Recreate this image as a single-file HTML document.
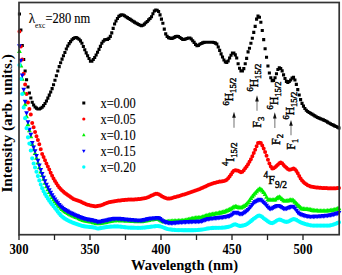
<!DOCTYPE html>
<html><head><meta charset="utf-8"><style>html,body{margin:0;padding:0;background:#fff;width:342px;height:275px;overflow:hidden}</style></head>
<body><svg width="342" height="275" viewBox="0 0 342 275" style="display:block">
<rect width="342" height="275" fill="#fff"/>
<g><path fill="#000" d="M17.9 12.45h3.1v3.1h-3.1zM19.32 28.45h3.1v3.1h-3.1zM20.74 43.95h3.1v3.1h-3.1zM22.16 57.95h3.1v3.1h-3.1zM23.58 69.45h3.1v3.1h-3.1zM25 78.15h3.1v3.1h-3.1zM26.42 85.45h3.1v3.1h-3.1zM27.84 91.45h3.1v3.1h-3.1zM29.26 96.45h3.1v3.1h-3.1zM30.68 100.75h3.1v3.1h-3.1zM32.1 103.5h3.1v3.1h-3.1zM33.52 105.46h3.1v3.1h-3.1zM34.94 106.61h3.1v3.1h-3.1zM36.36 107.41h3.1v3.1h-3.1zM37.78 107.46h3.1v3.1h-3.1zM39.2 106.76h3.1v3.1h-3.1zM40.62 105.72h3.1v3.1h-3.1zM42.04 104.08h3.1v3.1h-3.1zM43.46 101.91h3.1v3.1h-3.1zM44.88 99.45h3.1v3.1h-3.1zM46.3 96.54h3.1v3.1h-3.1zM47.72 93.53h3.1v3.1h-3.1zM49.14 90.43h3.1v3.1h-3.1zM50.56 87.05h3.1v3.1h-3.1zM51.98 83.14h3.1v3.1h-3.1zM53.4 78.71h3.1v3.1h-3.1zM54.82 74.14h3.1v3.1h-3.1zM56.24 69.38h3.1v3.1h-3.1zM57.66 65.07h3.1v3.1h-3.1zM59.08 61.17h3.1v3.1h-3.1zM60.5 57.57h3.1v3.1h-3.1zM61.92 54.21h3.1v3.1h-3.1zM63.34 50.89h3.1v3.1h-3.1zM64.76 47.49h3.1v3.1h-3.1zM66.18 44.45h3.1v3.1h-3.1zM67.6 42.09h3.1v3.1h-3.1zM69.02 40.12h3.1v3.1h-3.1zM70.44 38.22h3.1v3.1h-3.1zM71.86 36.93h3.1v3.1h-3.1zM73.28 36.27h3.1v3.1h-3.1zM74.7 36.07h3.1v3.1h-3.1zM76.12 36.65h3.1v3.1h-3.1zM77.54 37.66h3.1v3.1h-3.1zM78.96 39.36h3.1v3.1h-3.1zM80.38 41.64h3.1v3.1h-3.1zM81.8 44.9h3.1v3.1h-3.1zM83.22 48.18h3.1v3.1h-3.1zM84.64 51.35h3.1v3.1h-3.1zM86.06 54.25h3.1v3.1h-3.1zM87.48 57.02h3.1v3.1h-3.1zM88.9 59.56h3.1v3.1h-3.1zM90.32 59.64h3.1v3.1h-3.1zM91.74 58h3.1v3.1h-3.1zM93.16 56.01h3.1v3.1h-3.1zM94.58 53.42h3.1v3.1h-3.1zM96 50.7h3.1v3.1h-3.1zM97.42 47.84h3.1v3.1h-3.1zM98.84 44.87h3.1v3.1h-3.1zM100.26 41.68h3.1v3.1h-3.1zM101.68 39.65h3.1v3.1h-3.1zM103.1 38.33h3.1v3.1h-3.1zM104.52 37.92h3.1v3.1h-3.1zM105.94 37.82h3.1v3.1h-3.1zM107.36 36.81h3.1v3.1h-3.1zM108.78 34.85h3.1v3.1h-3.1zM110.2 31.36h3.1v3.1h-3.1zM111.62 26.87h3.1v3.1h-3.1zM113.04 22.43h3.1v3.1h-3.1zM114.46 19.41h3.1v3.1h-3.1zM115.88 16.98h3.1v3.1h-3.1zM117.3 14.83h3.1v3.1h-3.1zM118.72 13.82h3.1v3.1h-3.1zM120.14 13.3h3.1v3.1h-3.1zM121.56 13.44h3.1v3.1h-3.1zM122.98 14.23h3.1v3.1h-3.1zM124.4 15.2h3.1v3.1h-3.1zM125.82 16.05h3.1v3.1h-3.1zM127.24 16.95h3.1v3.1h-3.1zM128.66 17.87h3.1v3.1h-3.1zM130.08 18.77h3.1v3.1h-3.1zM131.5 19.67h3.1v3.1h-3.1zM132.92 20.59h3.1v3.1h-3.1zM134.34 21.45h3.1v3.1h-3.1zM135.76 22.21h3.1v3.1h-3.1zM137.18 23.01h3.1v3.1h-3.1zM138.6 23.71h3.1v3.1h-3.1zM140.02 24.05h3.1v3.1h-3.1zM141.44 23.66h3.1v3.1h-3.1zM142.86 22.59h3.1v3.1h-3.1zM144.28 21.26h3.1v3.1h-3.1zM145.7 19.92h3.1v3.1h-3.1zM147.12 18.33h3.1v3.1h-3.1zM148.54 16.92h3.1v3.1h-3.1zM149.96 15.25h3.1v3.1h-3.1zM151.38 12.24h3.1v3.1h-3.1zM152.8 9.49h3.1v3.1h-3.1zM154.22 8.6h3.1v3.1h-3.1zM155.64 8.67h3.1v3.1h-3.1zM157.06 10.02h3.1v3.1h-3.1zM158.48 13.3h3.1v3.1h-3.1zM159.9 17.59h3.1v3.1h-3.1zM161.32 21.69h3.1v3.1h-3.1zM162.74 27.61h3.1v3.1h-3.1zM164.16 32.31h3.1v3.1h-3.1zM165.58 34.82h3.1v3.1h-3.1zM167 36.03h3.1v3.1h-3.1zM168.42 36.62h3.1v3.1h-3.1zM169.84 36.85h3.1v3.1h-3.1zM171.26 36.53h3.1v3.1h-3.1zM172.68 35.82h3.1v3.1h-3.1zM174.1 35.07h3.1v3.1h-3.1zM175.52 34.66h3.1v3.1h-3.1zM176.94 34.97h3.1v3.1h-3.1zM178.36 35.91h3.1v3.1h-3.1zM179.78 37.02h3.1v3.1h-3.1zM181.2 37.82h3.1v3.1h-3.1zM182.62 37.9h3.1v3.1h-3.1zM184.04 37.52h3.1v3.1h-3.1zM185.46 36.97h3.1v3.1h-3.1zM186.88 36.5h3.1v3.1h-3.1zM188.3 36.38h3.1v3.1h-3.1zM189.72 37.41h3.1v3.1h-3.1zM191.14 39.18h3.1v3.1h-3.1zM192.56 40.85h3.1v3.1h-3.1zM193.98 42.83h3.1v3.1h-3.1zM195.4 44.18h3.1v3.1h-3.1zM196.82 43.87h3.1v3.1h-3.1zM198.24 42.77h3.1v3.1h-3.1zM199.66 41.92h3.1v3.1h-3.1zM201.08 41.33h3.1v3.1h-3.1zM202.5 40.85h3.1v3.1h-3.1zM203.92 40.65h3.1v3.1h-3.1zM205.34 40.65h3.1v3.1h-3.1zM206.76 40.65h3.1v3.1h-3.1zM208.18 40.65h3.1v3.1h-3.1zM209.6 40.65h3.1v3.1h-3.1zM211.02 40.69h3.1v3.1h-3.1zM212.44 40.99h3.1v3.1h-3.1zM213.86 41.54h3.1v3.1h-3.1zM215.28 42.47h3.1v3.1h-3.1zM216.7 45.49h3.1v3.1h-3.1zM218.12 48.87h3.1v3.1h-3.1zM219.54 52.37h3.1v3.1h-3.1zM220.96 55.46h3.1v3.1h-3.1zM222.38 58.45h3.1v3.1h-3.1zM223.8 60.36h3.1v3.1h-3.1zM225.22 60.93h3.1v3.1h-3.1zM226.64 59.43h3.1v3.1h-3.1zM228.06 56.47h3.1v3.1h-3.1zM229.48 53.76h3.1v3.1h-3.1zM230.9 51.54h3.1v3.1h-3.1zM232.32 51.5h3.1v3.1h-3.1zM233.74 53.37h3.1v3.1h-3.1zM235.16 56.4h3.1v3.1h-3.1zM236.58 62.16h3.1v3.1h-3.1zM238 66.76h3.1v3.1h-3.1zM239.42 69.51h3.1v3.1h-3.1zM240.84 69.29h3.1v3.1h-3.1zM242.26 67.12h3.1v3.1h-3.1zM243.68 62.19h3.1v3.1h-3.1zM245.1 56.87h3.1v3.1h-3.1zM246.52 50.35h3.1v3.1h-3.1zM247.94 46.65h3.1v3.1h-3.1zM249.36 41.75h3.1v3.1h-3.1zM250.78 36.65h3.1v3.1h-3.1zM252.2 30.85h3.1v3.1h-3.1zM253.62 24.85h3.1v3.1h-3.1zM255.04 17.55h3.1v3.1h-3.1zM256.46 14.45h3.1v3.1h-3.1zM257.88 15.75h3.1v3.1h-3.1zM259.3 20.65h3.1v3.1h-3.1zM260.72 28.95h3.1v3.1h-3.1zM262.14 38.05h3.1v3.1h-3.1zM263.56 47.15h3.1v3.1h-3.1zM264.98 55.75h3.1v3.1h-3.1zM266.4 64.45h3.1v3.1h-3.1zM267.82 71.45h3.1v3.1h-3.1zM269.24 76.13h3.1v3.1h-3.1zM270.66 79.21h3.1v3.1h-3.1zM272.08 78.86h3.1v3.1h-3.1zM273.5 76.25h3.1v3.1h-3.1zM274.92 72.14h3.1v3.1h-3.1zM276.34 68h3.1v3.1h-3.1zM277.76 66.32h3.1v3.1h-3.1zM279.18 66.97h3.1v3.1h-3.1zM280.6 69.37h3.1v3.1h-3.1zM282.02 73.3h3.1v3.1h-3.1zM283.44 76.97h3.1v3.1h-3.1zM284.86 79.83h3.1v3.1h-3.1zM286.28 80.99h3.1v3.1h-3.1zM287.7 79.89h3.1v3.1h-3.1zM289.12 78.44h3.1v3.1h-3.1zM290.54 76.56h3.1v3.1h-3.1zM291.96 75.82h3.1v3.1h-3.1zM293.38 78.45h3.1v3.1h-3.1zM294.8 82.85h3.1v3.1h-3.1zM296.22 88.05h3.1v3.1h-3.1zM297.64 93.45h3.1v3.1h-3.1zM299.06 98.05h3.1v3.1h-3.1zM300.48 101.85h3.1v3.1h-3.1zM301.9 104.55h3.1v3.1h-3.1zM303.32 106.95h3.1v3.1h-3.1zM304.74 108.7h3.1v3.1h-3.1zM306.16 110.01h3.1v3.1h-3.1zM307.58 110.96h3.1v3.1h-3.1zM309 111.74h3.1v3.1h-3.1zM310.42 112.53h3.1v3.1h-3.1zM311.84 113.41h3.1v3.1h-3.1zM313.26 114.3h3.1v3.1h-3.1zM314.68 115.16h3.1v3.1h-3.1zM316.1 115.93h3.1v3.1h-3.1zM317.52 116.58h3.1v3.1h-3.1zM318.94 117.17h3.1v3.1h-3.1zM320.36 117.74h3.1v3.1h-3.1zM321.78 118.32h3.1v3.1h-3.1zM323.2 118.97h3.1v3.1h-3.1zM324.62 119.72h3.1v3.1h-3.1zM326.04 120.54h3.1v3.1h-3.1zM327.46 121.38h3.1v3.1h-3.1zM328.88 122.19h3.1v3.1h-3.1zM330.3 122.93h3.1v3.1h-3.1zM331.72 123.62h3.1v3.1h-3.1zM333.14 124.29h3.1v3.1h-3.1zM334.56 124.96h3.1v3.1h-3.1zM335.98 125.67h3.1v3.1h-3.1zM337.4 126.42h3.1v3.1h-3.1z"/><path fill="#ff0000" d="M17.45 31.6a2 2 0 1 0 4 0a2 2 0 1 0 -4 0zM18.87 46.5a2 2 0 1 0 4 0a2 2 0 1 0 -4 0zM20.29 59.6a2 2 0 1 0 4 0a2 2 0 1 0 -4 0zM21.71 73.8a2 2 0 1 0 4 0a2 2 0 1 0 -4 0zM23.13 84.6a2 2 0 1 0 4 0a2 2 0 1 0 -4 0zM24.55 94a2 2 0 1 0 4 0a2 2 0 1 0 -4 0zM25.97 102.4a2 2 0 1 0 4 0a2 2 0 1 0 -4 0zM27.39 109a2 2 0 1 0 4 0a2 2 0 1 0 -4 0zM28.81 114.5a2 2 0 1 0 4 0a2 2 0 1 0 -4 0zM30.23 122.97a2 2 0 1 0 4 0a2 2 0 1 0 -4 0zM31.65 127.3a2 2 0 1 0 4 0a2 2 0 1 0 -4 0zM33.07 131.93a2 2 0 1 0 4 0a2 2 0 1 0 -4 0zM34.49 136.36a2 2 0 1 0 4 0a2 2 0 1 0 -4 0zM35.91 139.92a2 2 0 1 0 4 0a2 2 0 1 0 -4 0zM37.33 144.14a2 2 0 1 0 4 0a2 2 0 1 0 -4 0zM38.75 149.37a2 2 0 1 0 4 0a2 2 0 1 0 -4 0zM40.17 153.95a2 2 0 1 0 4 0a2 2 0 1 0 -4 0zM41.59 157.09a2 2 0 1 0 4 0a2 2 0 1 0 -4 0zM43.01 160.27a2 2 0 1 0 4 0a2 2 0 1 0 -4 0zM44.43 163.45a2 2 0 1 0 4 0a2 2 0 1 0 -4 0zM45.85 166.47a2 2 0 1 0 4 0a2 2 0 1 0 -4 0zM47.27 169.49a2 2 0 1 0 4 0a2 2 0 1 0 -4 0zM48.69 172.81a2 2 0 1 0 4 0a2 2 0 1 0 -4 0zM50.11 175.76a2 2 0 1 0 4 0a2 2 0 1 0 -4 0zM51.53 178.43a2 2 0 1 0 4 0a2 2 0 1 0 -4 0zM52.95 180.92a2 2 0 1 0 4 0a2 2 0 1 0 -4 0zM54.37 183.31a2 2 0 1 0 4 0a2 2 0 1 0 -4 0zM55.79 185.55a2 2 0 1 0 4 0a2 2 0 1 0 -4 0zM57.21 187.45a2 2 0 1 0 4 0a2 2 0 1 0 -4 0zM58.63 189.05a2 2 0 1 0 4 0a2 2 0 1 0 -4 0zM60.05 190.45a2 2 0 1 0 4 0a2 2 0 1 0 -4 0zM61.47 191.74a2 2 0 1 0 4 0a2 2 0 1 0 -4 0zM62.89 192.95a2 2 0 1 0 4 0a2 2 0 1 0 -4 0zM64.31 194.06a2 2 0 1 0 4 0a2 2 0 1 0 -4 0zM65.73 195.11a2 2 0 1 0 4 0a2 2 0 1 0 -4 0zM67.15 196.1a2 2 0 1 0 4 0a2 2 0 1 0 -4 0zM68.57 197.11a2 2 0 1 0 4 0a2 2 0 1 0 -4 0zM69.99 198.07a2 2 0 1 0 4 0a2 2 0 1 0 -4 0zM71.41 198.91a2 2 0 1 0 4 0a2 2 0 1 0 -4 0zM72.83 199.55a2 2 0 1 0 4 0a2 2 0 1 0 -4 0zM74.25 200.07a2 2 0 1 0 4 0a2 2 0 1 0 -4 0zM75.67 200.53a2 2 0 1 0 4 0a2 2 0 1 0 -4 0zM77.09 201.03a2 2 0 1 0 4 0a2 2 0 1 0 -4 0zM78.51 201.62a2 2 0 1 0 4 0a2 2 0 1 0 -4 0zM79.93 202.27a2 2 0 1 0 4 0a2 2 0 1 0 -4 0zM81.35 202.94a2 2 0 1 0 4 0a2 2 0 1 0 -4 0zM82.77 203.6a2 2 0 1 0 4 0a2 2 0 1 0 -4 0zM84.19 204.2a2 2 0 1 0 4 0a2 2 0 1 0 -4 0zM85.61 204.7a2 2 0 1 0 4 0a2 2 0 1 0 -4 0zM87.03 205.08a2 2 0 1 0 4 0a2 2 0 1 0 -4 0zM88.45 205.42a2 2 0 1 0 4 0a2 2 0 1 0 -4 0zM89.87 205.73a2 2 0 1 0 4 0a2 2 0 1 0 -4 0zM91.29 205.99a2 2 0 1 0 4 0a2 2 0 1 0 -4 0zM92.71 206.16a2 2 0 1 0 4 0a2 2 0 1 0 -4 0zM94.13 206.19a2 2 0 1 0 4 0a2 2 0 1 0 -4 0zM95.55 206.06a2 2 0 1 0 4 0a2 2 0 1 0 -4 0zM96.97 205.79a2 2 0 1 0 4 0a2 2 0 1 0 -4 0zM98.39 205.45a2 2 0 1 0 4 0a2 2 0 1 0 -4 0zM99.81 205.05a2 2 0 1 0 4 0a2 2 0 1 0 -4 0zM101.23 204.43a2 2 0 1 0 4 0a2 2 0 1 0 -4 0zM102.65 203.75a2 2 0 1 0 4 0a2 2 0 1 0 -4 0zM104.07 203.18a2 2 0 1 0 4 0a2 2 0 1 0 -4 0zM105.49 202.73a2 2 0 1 0 4 0a2 2 0 1 0 -4 0zM106.91 202.34a2 2 0 1 0 4 0a2 2 0 1 0 -4 0zM108.33 201.99a2 2 0 1 0 4 0a2 2 0 1 0 -4 0zM109.75 201.69a2 2 0 1 0 4 0a2 2 0 1 0 -4 0zM111.17 201.43a2 2 0 1 0 4 0a2 2 0 1 0 -4 0zM112.59 201.2a2 2 0 1 0 4 0a2 2 0 1 0 -4 0zM114.01 200.98a2 2 0 1 0 4 0a2 2 0 1 0 -4 0zM115.43 200.78a2 2 0 1 0 4 0a2 2 0 1 0 -4 0zM116.85 200.6a2 2 0 1 0 4 0a2 2 0 1 0 -4 0zM118.27 200.43a2 2 0 1 0 4 0a2 2 0 1 0 -4 0zM119.69 200.27a2 2 0 1 0 4 0a2 2 0 1 0 -4 0zM121.11 200.11a2 2 0 1 0 4 0a2 2 0 1 0 -4 0zM122.53 199.97a2 2 0 1 0 4 0a2 2 0 1 0 -4 0zM123.95 199.83a2 2 0 1 0 4 0a2 2 0 1 0 -4 0zM125.37 199.7a2 2 0 1 0 4 0a2 2 0 1 0 -4 0zM126.79 199.61a2 2 0 1 0 4 0a2 2 0 1 0 -4 0zM128.21 199.53a2 2 0 1 0 4 0a2 2 0 1 0 -4 0zM129.63 199.48a2 2 0 1 0 4 0a2 2 0 1 0 -4 0zM131.05 199.43a2 2 0 1 0 4 0a2 2 0 1 0 -4 0zM132.47 199.38a2 2 0 1 0 4 0a2 2 0 1 0 -4 0zM133.89 199.31a2 2 0 1 0 4 0a2 2 0 1 0 -4 0zM135.31 199.2a2 2 0 1 0 4 0a2 2 0 1 0 -4 0zM136.73 199.06a2 2 0 1 0 4 0a2 2 0 1 0 -4 0zM138.15 198.9a2 2 0 1 0 4 0a2 2 0 1 0 -4 0zM139.57 198.7a2 2 0 1 0 4 0a2 2 0 1 0 -4 0zM140.99 198.48a2 2 0 1 0 4 0a2 2 0 1 0 -4 0zM142.41 198.23a2 2 0 1 0 4 0a2 2 0 1 0 -4 0zM143.83 197.93a2 2 0 1 0 4 0a2 2 0 1 0 -4 0zM145.25 197.52a2 2 0 1 0 4 0a2 2 0 1 0 -4 0zM146.67 196.92a2 2 0 1 0 4 0a2 2 0 1 0 -4 0zM148.09 196.2a2 2 0 1 0 4 0a2 2 0 1 0 -4 0zM149.51 195.51a2 2 0 1 0 4 0a2 2 0 1 0 -4 0zM150.93 194.89a2 2 0 1 0 4 0a2 2 0 1 0 -4 0zM152.35 194.23a2 2 0 1 0 4 0a2 2 0 1 0 -4 0zM153.77 193.73a2 2 0 1 0 4 0a2 2 0 1 0 -4 0zM155.19 193.64a2 2 0 1 0 4 0a2 2 0 1 0 -4 0zM156.61 194.21a2 2 0 1 0 4 0a2 2 0 1 0 -4 0zM158.03 195.02a2 2 0 1 0 4 0a2 2 0 1 0 -4 0zM159.45 195.93a2 2 0 1 0 4 0a2 2 0 1 0 -4 0zM160.87 196.85a2 2 0 1 0 4 0a2 2 0 1 0 -4 0zM162.29 197.45a2 2 0 1 0 4 0a2 2 0 1 0 -4 0zM163.71 197.97a2 2 0 1 0 4 0a2 2 0 1 0 -4 0zM165.13 198.38a2 2 0 1 0 4 0a2 2 0 1 0 -4 0zM166.55 198.59a2 2 0 1 0 4 0a2 2 0 1 0 -4 0zM167.97 198.51a2 2 0 1 0 4 0a2 2 0 1 0 -4 0zM169.39 198.18a2 2 0 1 0 4 0a2 2 0 1 0 -4 0zM170.81 197.74a2 2 0 1 0 4 0a2 2 0 1 0 -4 0zM172.23 197.34a2 2 0 1 0 4 0a2 2 0 1 0 -4 0zM173.65 196.97a2 2 0 1 0 4 0a2 2 0 1 0 -4 0zM175.07 196.59a2 2 0 1 0 4 0a2 2 0 1 0 -4 0zM176.49 196.19a2 2 0 1 0 4 0a2 2 0 1 0 -4 0zM177.91 195.77a2 2 0 1 0 4 0a2 2 0 1 0 -4 0zM179.33 195.33a2 2 0 1 0 4 0a2 2 0 1 0 -4 0zM180.75 194.87a2 2 0 1 0 4 0a2 2 0 1 0 -4 0zM182.17 194.4a2 2 0 1 0 4 0a2 2 0 1 0 -4 0zM183.59 193.92a2 2 0 1 0 4 0a2 2 0 1 0 -4 0zM185.01 193.42a2 2 0 1 0 4 0a2 2 0 1 0 -4 0zM186.43 192.93a2 2 0 1 0 4 0a2 2 0 1 0 -4 0zM187.85 192.43a2 2 0 1 0 4 0a2 2 0 1 0 -4 0zM189.27 191.94a2 2 0 1 0 4 0a2 2 0 1 0 -4 0zM190.69 191.45a2 2 0 1 0 4 0a2 2 0 1 0 -4 0zM192.11 190.95a2 2 0 1 0 4 0a2 2 0 1 0 -4 0zM193.53 190.45a2 2 0 1 0 4 0a2 2 0 1 0 -4 0zM194.95 189.95a2 2 0 1 0 4 0a2 2 0 1 0 -4 0zM196.37 189.42a2 2 0 1 0 4 0a2 2 0 1 0 -4 0zM197.79 188.88a2 2 0 1 0 4 0a2 2 0 1 0 -4 0zM199.21 188.31a2 2 0 1 0 4 0a2 2 0 1 0 -4 0zM200.63 187.69a2 2 0 1 0 4 0a2 2 0 1 0 -4 0zM202.05 187.04a2 2 0 1 0 4 0a2 2 0 1 0 -4 0zM203.47 186.39a2 2 0 1 0 4 0a2 2 0 1 0 -4 0zM204.89 185.74a2 2 0 1 0 4 0a2 2 0 1 0 -4 0zM206.31 185.11a2 2 0 1 0 4 0a2 2 0 1 0 -4 0zM207.73 184.53a2 2 0 1 0 4 0a2 2 0 1 0 -4 0zM209.15 184.01a2 2 0 1 0 4 0a2 2 0 1 0 -4 0zM210.57 183.53a2 2 0 1 0 4 0a2 2 0 1 0 -4 0zM211.99 183.07a2 2 0 1 0 4 0a2 2 0 1 0 -4 0zM213.41 182.64a2 2 0 1 0 4 0a2 2 0 1 0 -4 0zM214.83 182.24a2 2 0 1 0 4 0a2 2 0 1 0 -4 0zM216.25 181.89a2 2 0 1 0 4 0a2 2 0 1 0 -4 0zM217.67 181.62a2 2 0 1 0 4 0a2 2 0 1 0 -4 0zM219.09 181.41a2 2 0 1 0 4 0a2 2 0 1 0 -4 0zM220.51 181.21a2 2 0 1 0 4 0a2 2 0 1 0 -4 0zM221.93 180.94a2 2 0 1 0 4 0a2 2 0 1 0 -4 0zM223.35 180.55a2 2 0 1 0 4 0a2 2 0 1 0 -4 0zM224.77 179.63a2 2 0 1 0 4 0a2 2 0 1 0 -4 0zM226.19 178.21a2 2 0 1 0 4 0a2 2 0 1 0 -4 0zM227.61 176.52a2 2 0 1 0 4 0a2 2 0 1 0 -4 0zM229.03 174.48a2 2 0 1 0 4 0a2 2 0 1 0 -4 0zM230.45 172.35a2 2 0 1 0 4 0a2 2 0 1 0 -4 0zM231.87 170.84a2 2 0 1 0 4 0a2 2 0 1 0 -4 0zM233.29 170.2a2 2 0 1 0 4 0a2 2 0 1 0 -4 0zM234.71 170.42a2 2 0 1 0 4 0a2 2 0 1 0 -4 0zM236.13 170.81a2 2 0 1 0 4 0a2 2 0 1 0 -4 0zM237.55 171.59a2 2 0 1 0 4 0a2 2 0 1 0 -4 0zM238.97 172.28a2 2 0 1 0 4 0a2 2 0 1 0 -4 0zM240.39 171.78a2 2 0 1 0 4 0a2 2 0 1 0 -4 0zM241.81 170.21a2 2 0 1 0 4 0a2 2 0 1 0 -4 0zM243.23 168.28a2 2 0 1 0 4 0a2 2 0 1 0 -4 0zM244.65 166.39a2 2 0 1 0 4 0a2 2 0 1 0 -4 0zM246.07 164.21a2 2 0 1 0 4 0a2 2 0 1 0 -4 0zM247.49 161.78a2 2 0 1 0 4 0a2 2 0 1 0 -4 0zM248.91 159.17a2 2 0 1 0 4 0a2 2 0 1 0 -4 0zM250.33 156.22a2 2 0 1 0 4 0a2 2 0 1 0 -4 0zM251.75 152.92a2 2 0 1 0 4 0a2 2 0 1 0 -4 0zM253.17 149.69a2 2 0 1 0 4 0a2 2 0 1 0 -4 0zM254.59 146.22a2 2 0 1 0 4 0a2 2 0 1 0 -4 0zM256.01 143.11a2 2 0 1 0 4 0a2 2 0 1 0 -4 0zM257.43 142.64a2 2 0 1 0 4 0a2 2 0 1 0 -4 0zM258.85 143.02a2 2 0 1 0 4 0a2 2 0 1 0 -4 0zM260.27 145.45a2 2 0 1 0 4 0a2 2 0 1 0 -4 0zM261.69 148.51a2 2 0 1 0 4 0a2 2 0 1 0 -4 0zM263.11 152.04a2 2 0 1 0 4 0a2 2 0 1 0 -4 0zM264.53 155.85a2 2 0 1 0 4 0a2 2 0 1 0 -4 0zM265.95 159.84a2 2 0 1 0 4 0a2 2 0 1 0 -4 0zM267.37 163.46a2 2 0 1 0 4 0a2 2 0 1 0 -4 0zM268.79 166.39a2 2 0 1 0 4 0a2 2 0 1 0 -4 0zM270.21 168.51a2 2 0 1 0 4 0a2 2 0 1 0 -4 0zM271.63 168.28a2 2 0 1 0 4 0a2 2 0 1 0 -4 0zM273.05 167.27a2 2 0 1 0 4 0a2 2 0 1 0 -4 0zM274.47 166.05a2 2 0 1 0 4 0a2 2 0 1 0 -4 0zM275.89 164.75a2 2 0 1 0 4 0a2 2 0 1 0 -4 0zM277.31 163.21a2 2 0 1 0 4 0a2 2 0 1 0 -4 0zM278.73 162.4a2 2 0 1 0 4 0a2 2 0 1 0 -4 0zM280.15 163.15a2 2 0 1 0 4 0a2 2 0 1 0 -4 0zM281.57 164.88a2 2 0 1 0 4 0a2 2 0 1 0 -4 0zM282.99 166.49a2 2 0 1 0 4 0a2 2 0 1 0 -4 0zM284.41 167.83a2 2 0 1 0 4 0a2 2 0 1 0 -4 0zM285.83 169.1a2 2 0 1 0 4 0a2 2 0 1 0 -4 0zM287.25 169.78a2 2 0 1 0 4 0a2 2 0 1 0 -4 0zM288.67 169.58a2 2 0 1 0 4 0a2 2 0 1 0 -4 0zM290.09 169.02a2 2 0 1 0 4 0a2 2 0 1 0 -4 0zM291.51 168.62a2 2 0 1 0 4 0a2 2 0 1 0 -4 0zM292.93 169.21a2 2 0 1 0 4 0a2 2 0 1 0 -4 0zM294.35 171.09a2 2 0 1 0 4 0a2 2 0 1 0 -4 0zM295.77 173.24a2 2 0 1 0 4 0a2 2 0 1 0 -4 0zM297.19 176.01a2 2 0 1 0 4 0a2 2 0 1 0 -4 0zM298.61 178.4a2 2 0 1 0 4 0a2 2 0 1 0 -4 0zM300.03 180.38a2 2 0 1 0 4 0a2 2 0 1 0 -4 0zM301.45 182.08a2 2 0 1 0 4 0a2 2 0 1 0 -4 0zM302.87 183.32a2 2 0 1 0 4 0a2 2 0 1 0 -4 0zM304.29 184.29a2 2 0 1 0 4 0a2 2 0 1 0 -4 0zM305.71 185.13a2 2 0 1 0 4 0a2 2 0 1 0 -4 0zM307.13 185.84a2 2 0 1 0 4 0a2 2 0 1 0 -4 0zM308.55 186.38a2 2 0 1 0 4 0a2 2 0 1 0 -4 0zM309.97 186.73a2 2 0 1 0 4 0a2 2 0 1 0 -4 0zM311.39 186.98a2 2 0 1 0 4 0a2 2 0 1 0 -4 0zM312.81 187.2a2 2 0 1 0 4 0a2 2 0 1 0 -4 0zM314.23 187.39a2 2 0 1 0 4 0a2 2 0 1 0 -4 0zM315.65 187.55a2 2 0 1 0 4 0a2 2 0 1 0 -4 0zM317.07 187.69a2 2 0 1 0 4 0a2 2 0 1 0 -4 0zM318.49 187.81a2 2 0 1 0 4 0a2 2 0 1 0 -4 0zM319.91 187.91a2 2 0 1 0 4 0a2 2 0 1 0 -4 0zM321.33 187.99a2 2 0 1 0 4 0a2 2 0 1 0 -4 0zM322.75 188.06a2 2 0 1 0 4 0a2 2 0 1 0 -4 0zM324.17 188.12a2 2 0 1 0 4 0a2 2 0 1 0 -4 0zM325.59 188.18a2 2 0 1 0 4 0a2 2 0 1 0 -4 0zM327.01 188.23a2 2 0 1 0 4 0a2 2 0 1 0 -4 0zM328.43 188.27a2 2 0 1 0 4 0a2 2 0 1 0 -4 0zM329.85 188.29a2 2 0 1 0 4 0a2 2 0 1 0 -4 0zM331.27 188.3a2 2 0 1 0 4 0a2 2 0 1 0 -4 0zM332.69 188.27a2 2 0 1 0 4 0a2 2 0 1 0 -4 0zM334.11 188.21a2 2 0 1 0 4 0a2 2 0 1 0 -4 0zM335.53 188.11a2 2 0 1 0 4 0a2 2 0 1 0 -4 0zM336.95 188a2 2 0 1 0 4 0a2 2 0 1 0 -4 0z"/><path fill="#00f000" d="M19.45 48.56l2.4 4.56h-4.8zM20.87 62.86l2.4 4.56h-4.8zM22.29 76.26l2.4 4.56h-4.8zM23.71 89.86l2.4 4.56h-4.8zM25.13 101.66l2.4 4.56h-4.8zM26.55 113.66l2.4 4.56h-4.8zM27.97 121.76l2.4 4.56h-4.8zM29.39 127.76l2.4 4.56h-4.8zM30.81 133.76l2.4 4.56h-4.8zM32.23 141.34l2.4 4.56h-4.8zM33.65 146.68l2.4 4.56h-4.8zM35.07 150.48l2.4 4.56h-4.8zM36.49 155.16l2.4 4.56h-4.8zM37.91 159.96l2.4 4.56h-4.8zM39.33 164.68l2.4 4.56h-4.8zM40.75 168.95l2.4 4.56h-4.8zM42.17 172.5l2.4 4.56h-4.8zM43.59 176.13l2.4 4.56h-4.8zM45.01 180.24l2.4 4.56h-4.8zM46.43 183.77l2.4 4.56h-4.8zM47.85 186.75l2.4 4.56h-4.8zM49.27 189.43l2.4 4.56h-4.8zM50.69 191.94l2.4 4.56h-4.8zM52.11 194.33l2.4 4.56h-4.8zM53.53 196.57l2.4 4.56h-4.8zM54.95 198.6l2.4 4.56h-4.8zM56.37 200.44l2.4 4.56h-4.8zM57.79 202.18l2.4 4.56h-4.8zM59.21 203.8l2.4 4.56h-4.8zM60.63 205.27l2.4 4.56h-4.8zM62.05 206.56l2.4 4.56h-4.8zM63.47 207.67l2.4 4.56h-4.8zM64.89 208.66l2.4 4.56h-4.8zM66.31 209.56l2.4 4.56h-4.8zM67.73 210.39l2.4 4.56h-4.8zM69.15 211.17l2.4 4.56h-4.8zM70.57 211.91l2.4 4.56h-4.8zM71.99 212.59l2.4 4.56h-4.8zM73.41 213.22l2.4 4.56h-4.8zM74.83 213.83l2.4 4.56h-4.8zM76.25 214.43l2.4 4.56h-4.8zM77.67 215.05l2.4 4.56h-4.8zM79.09 215.69l2.4 4.56h-4.8zM80.51 216.32l2.4 4.56h-4.8zM81.93 216.92l2.4 4.56h-4.8zM83.35 217.43l2.4 4.56h-4.8zM84.77 217.85l2.4 4.56h-4.8zM86.19 218.2l2.4 4.56h-4.8zM87.61 218.5l2.4 4.56h-4.8zM89.03 218.78l2.4 4.56h-4.8zM90.45 219.04l2.4 4.56h-4.8zM91.87 219.3l2.4 4.56h-4.8zM93.29 219.58l2.4 4.56h-4.8zM94.71 219.9l2.4 4.56h-4.8zM96.13 220.32l2.4 4.56h-4.8zM97.55 220.73l2.4 4.56h-4.8zM98.97 220.72l2.4 4.56h-4.8zM100.39 220.53l2.4 4.56h-4.8zM101.81 220.23l2.4 4.56h-4.8zM103.23 219.9l2.4 4.56h-4.8zM104.65 219.58l2.4 4.56h-4.8zM106.07 219.33l2.4 4.56h-4.8zM107.49 219.05l2.4 4.56h-4.8zM108.91 218.76l2.4 4.56h-4.8zM110.33 218.47l2.4 4.56h-4.8zM111.75 218.2l2.4 4.56h-4.8zM113.17 217.98l2.4 4.56h-4.8zM114.59 217.83l2.4 4.56h-4.8zM116.01 217.76l2.4 4.56h-4.8zM117.43 217.77l2.4 4.56h-4.8zM118.85 217.8l2.4 4.56h-4.8zM120.27 217.84l2.4 4.56h-4.8zM121.69 217.9l2.4 4.56h-4.8zM123.11 217.96l2.4 4.56h-4.8zM124.53 218.03l2.4 4.56h-4.8zM125.95 218.11l2.4 4.56h-4.8zM127.37 218.18l2.4 4.56h-4.8zM128.79 218.24l2.4 4.56h-4.8zM130.21 218.31l2.4 4.56h-4.8zM131.63 218.38l2.4 4.56h-4.8zM133.05 218.47l2.4 4.56h-4.8zM134.47 218.55l2.4 4.56h-4.8zM135.89 218.63l2.4 4.56h-4.8zM137.31 218.7l2.4 4.56h-4.8zM138.73 218.75l2.4 4.56h-4.8zM140.15 218.76l2.4 4.56h-4.8zM141.57 218.7l2.4 4.56h-4.8zM142.99 218.53l2.4 4.56h-4.8zM144.41 218.28l2.4 4.56h-4.8zM145.83 217.97l2.4 4.56h-4.8zM147.25 217.65l2.4 4.56h-4.8zM148.67 217.33l2.4 4.56h-4.8zM150.09 217.06l2.4 4.56h-4.8zM151.51 216.85l2.4 4.56h-4.8zM152.93 216.67l2.4 4.56h-4.8zM154.35 216.49l2.4 4.56h-4.8zM155.77 216.35l2.4 4.56h-4.8zM157.19 216.27l2.4 4.56h-4.8zM158.61 216.41l2.4 4.56h-4.8zM160.03 217.08l2.4 4.56h-4.8zM161.45 217.96l2.4 4.56h-4.8zM162.87 218.7l2.4 4.56h-4.8zM164.29 218.96l2.4 4.56h-4.8zM165.71 218.9l2.4 4.56h-4.8zM167.13 218.78l2.4 4.56h-4.8zM168.55 218.63l2.4 4.56h-4.8zM169.97 218.5l2.4 4.56h-4.8zM171.39 218.4l2.4 4.56h-4.8zM172.81 218.32l2.4 4.56h-4.8zM174.23 218.26l2.4 4.56h-4.8zM175.65 218.19l2.4 4.56h-4.8zM177.07 218.13l2.4 4.56h-4.8zM178.49 218.07l2.4 4.56h-4.8zM179.91 217.99l2.4 4.56h-4.8zM181.33 217.9l2.4 4.56h-4.8zM182.75 217.79l2.4 4.56h-4.8zM184.17 217.64l2.4 4.56h-4.8zM185.59 217.41l2.4 4.56h-4.8zM187.01 217.1l2.4 4.56h-4.8zM188.43 216.76l2.4 4.56h-4.8zM189.85 216.39l2.4 4.56h-4.8zM191.27 216.03l2.4 4.56h-4.8zM192.69 215.7l2.4 4.56h-4.8zM194.11 215.42l2.4 4.56h-4.8zM195.53 215.2l2.4 4.56h-4.8zM196.95 215.08l2.4 4.56h-4.8zM198.37 215l2.4 4.56h-4.8zM199.79 214.89l2.4 4.56h-4.8zM201.21 214.66l2.4 4.56h-4.8zM202.63 214.26l2.4 4.56h-4.8zM204.05 213.78l2.4 4.56h-4.8zM205.47 213.26l2.4 4.56h-4.8zM206.89 212.77l2.4 4.56h-4.8zM208.31 212.39l2.4 4.56h-4.8zM209.73 212.08l2.4 4.56h-4.8zM211.15 211.8l2.4 4.56h-4.8zM212.57 211.53l2.4 4.56h-4.8zM213.99 211.26l2.4 4.56h-4.8zM215.41 210.99l2.4 4.56h-4.8zM216.83 210.69l2.4 4.56h-4.8zM218.25 210.41l2.4 4.56h-4.8zM219.67 210.12l2.4 4.56h-4.8zM221.09 209.82l2.4 4.56h-4.8zM222.51 209.48l2.4 4.56h-4.8zM223.93 209.08l2.4 4.56h-4.8zM225.35 208.59l2.4 4.56h-4.8zM226.77 207.99l2.4 4.56h-4.8zM228.19 207.32l2.4 4.56h-4.8zM229.61 206.65l2.4 4.56h-4.8zM231.03 205.9l2.4 4.56h-4.8zM232.45 204.99l2.4 4.56h-4.8zM233.87 204.18l2.4 4.56h-4.8zM235.29 203.77l2.4 4.56h-4.8zM236.71 203.98l2.4 4.56h-4.8zM238.13 204.51l2.4 4.56h-4.8zM239.55 204.93l2.4 4.56h-4.8zM240.97 204.84l2.4 4.56h-4.8zM242.39 204.28l2.4 4.56h-4.8zM243.81 203.43l2.4 4.56h-4.8zM245.23 202.45l2.4 4.56h-4.8zM246.65 201.26l2.4 4.56h-4.8zM248.07 199.58l2.4 4.56h-4.8zM249.49 197.6l2.4 4.56h-4.8zM250.91 195.55l2.4 4.56h-4.8zM252.33 193.62l2.4 4.56h-4.8zM253.75 191.89l2.4 4.56h-4.8zM255.17 190.17l2.4 4.56h-4.8zM256.59 188.64l2.4 4.56h-4.8zM258.01 187.29l2.4 4.56h-4.8zM259.43 186.19l2.4 4.56h-4.8zM260.85 186.46l2.4 4.56h-4.8zM262.27 187.82l2.4 4.56h-4.8zM263.69 189.43l2.4 4.56h-4.8zM265.11 191.4l2.4 4.56h-4.8zM266.53 194.16l2.4 4.56h-4.8zM267.95 196.57l2.4 4.56h-4.8zM269.37 197.26l2.4 4.56h-4.8zM270.79 197.26l2.4 4.56h-4.8zM272.21 197.26l2.4 4.56h-4.8zM273.63 197.26l2.4 4.56h-4.8zM275.05 196.92l2.4 4.56h-4.8zM276.47 195.79l2.4 4.56h-4.8zM277.89 194.64l2.4 4.56h-4.8zM279.31 194.29l2.4 4.56h-4.8zM280.73 195.07l2.4 4.56h-4.8zM282.15 196.41l2.4 4.56h-4.8zM283.57 197.69l2.4 4.56h-4.8zM284.99 198.26l2.4 4.56h-4.8zM286.41 198.16l2.4 4.56h-4.8zM287.83 197.91l2.4 4.56h-4.8zM289.25 197.61l2.4 4.56h-4.8zM290.67 197.36l2.4 4.56h-4.8zM292.09 197.27l2.4 4.56h-4.8zM293.51 197.82l2.4 4.56h-4.8zM294.93 199.08l2.4 4.56h-4.8zM296.35 200.63l2.4 4.56h-4.8zM297.77 202.07l2.4 4.56h-4.8zM299.19 203.38l2.4 4.56h-4.8zM300.61 204.82l2.4 4.56h-4.8zM302.03 205.94l2.4 4.56h-4.8zM303.45 206.3l2.4 4.56h-4.8zM304.87 206.37l2.4 4.56h-4.8zM306.29 206.42l2.4 4.56h-4.8zM307.71 206.52l2.4 4.56h-4.8zM309.13 206.75l2.4 4.56h-4.8zM310.55 207.05l2.4 4.56h-4.8zM311.97 207.37l2.4 4.56h-4.8zM313.39 207.66l2.4 4.56h-4.8zM314.81 207.85l2.4 4.56h-4.8zM316.23 207.95l2.4 4.56h-4.8zM317.65 208.05l2.4 4.56h-4.8zM319.07 208.13l2.4 4.56h-4.8zM320.49 208.2l2.4 4.56h-4.8zM321.91 208.24l2.4 4.56h-4.8zM323.33 208.26l2.4 4.56h-4.8zM324.75 208.24l2.4 4.56h-4.8zM326.17 208.16l2.4 4.56h-4.8zM327.59 208.04l2.4 4.56h-4.8zM329.01 207.88l2.4 4.56h-4.8zM330.43 207.71l2.4 4.56h-4.8zM331.85 207.51l2.4 4.56h-4.8zM333.27 207.24l2.4 4.56h-4.8zM334.69 206.9l2.4 4.56h-4.8zM336.11 206.5l2.4 4.56h-4.8zM337.53 206.06l2.4 4.56h-4.8zM338.95 205.58l2.4 4.56h-4.8z"/><path fill="#0000ff" d="M19.45 48.74l2.4 -4.56h-4.8zM20.87 63.24l2.4 -4.56h-4.8zM22.29 78.14l2.4 -4.56h-4.8zM23.71 92.24l2.4 -4.56h-4.8zM25.13 104.24l2.4 -4.56h-4.8zM26.55 115.74l2.4 -4.56h-4.8zM27.97 124.74l2.4 -4.56h-4.8zM29.39 132.24l2.4 -4.56h-4.8zM30.81 137.24l2.4 -4.56h-4.8zM32.23 145.51l2.4 -4.56h-4.8zM33.65 150.02l2.4 -4.56h-4.8zM35.07 153.85l2.4 -4.56h-4.8zM36.49 158.58l2.4 -4.56h-4.8zM37.91 163.43l2.4 -4.56h-4.8zM39.33 168.16l2.4 -4.56h-4.8zM40.75 172.57l2.4 -4.56h-4.8zM42.17 176.51l2.4 -4.56h-4.8zM43.59 180.26l2.4 -4.56h-4.8zM45.01 183.93l2.4 -4.56h-4.8zM46.43 187.2l2.4 -4.56h-4.8zM47.85 190.16l2.4 -4.56h-4.8zM49.27 192.89l2.4 -4.56h-4.8zM50.69 195.41l2.4 -4.56h-4.8zM52.11 197.79l2.4 -4.56h-4.8zM53.53 200.02l2.4 -4.56h-4.8zM54.95 202.06l2.4 -4.56h-4.8zM56.37 203.95l2.4 -4.56h-4.8zM57.79 205.76l2.4 -4.56h-4.8zM59.21 207.46l2.4 -4.56h-4.8zM60.63 209l2.4 -4.56h-4.8zM62.05 210.33l2.4 -4.56h-4.8zM63.47 211.45l2.4 -4.56h-4.8zM64.89 212.44l2.4 -4.56h-4.8zM66.31 213.34l2.4 -4.56h-4.8zM67.73 214.16l2.4 -4.56h-4.8zM69.15 214.94l2.4 -4.56h-4.8zM70.57 215.69l2.4 -4.56h-4.8zM71.99 216.4l2.4 -4.56h-4.8zM73.41 217.06l2.4 -4.56h-4.8zM74.83 217.69l2.4 -4.56h-4.8zM76.25 218.3l2.4 -4.56h-4.8zM77.67 218.9l2.4 -4.56h-4.8zM79.09 219.51l2.4 -4.56h-4.8zM80.51 220.09l2.4 -4.56h-4.8zM81.93 220.63l2.4 -4.56h-4.8zM83.35 221.11l2.4 -4.56h-4.8zM84.77 221.51l2.4 -4.56h-4.8zM86.19 221.85l2.4 -4.56h-4.8zM87.61 222.14l2.4 -4.56h-4.8zM89.03 222.4l2.4 -4.56h-4.8zM90.45 222.66l2.4 -4.56h-4.8zM91.87 222.92l2.4 -4.56h-4.8zM93.29 223.22l2.4 -4.56h-4.8zM94.71 223.56l2.4 -4.56h-4.8zM96.13 224.07l2.4 -4.56h-4.8zM97.55 224.59l2.4 -4.56h-4.8zM98.97 224.58l2.4 -4.56h-4.8zM100.39 224.36l2.4 -4.56h-4.8zM101.81 224.01l2.4 -4.56h-4.8zM103.23 223.63l2.4 -4.56h-4.8zM104.65 223.27l2.4 -4.56h-4.8zM106.07 222.99l2.4 -4.56h-4.8zM107.49 222.69l2.4 -4.56h-4.8zM108.91 222.38l2.4 -4.56h-4.8zM110.33 222.07l2.4 -4.56h-4.8zM111.75 221.79l2.4 -4.56h-4.8zM113.17 221.56l2.4 -4.56h-4.8zM114.59 221.4l2.4 -4.56h-4.8zM116.01 221.34l2.4 -4.56h-4.8zM117.43 221.36l2.4 -4.56h-4.8zM118.85 221.42l2.4 -4.56h-4.8zM120.27 221.53l2.4 -4.56h-4.8zM121.69 221.66l2.4 -4.56h-4.8zM123.11 221.81l2.4 -4.56h-4.8zM124.53 221.96l2.4 -4.56h-4.8zM125.95 222.12l2.4 -4.56h-4.8zM127.37 222.27l2.4 -4.56h-4.8zM128.79 222.4l2.4 -4.56h-4.8zM130.21 222.51l2.4 -4.56h-4.8zM131.63 222.62l2.4 -4.56h-4.8zM133.05 222.74l2.4 -4.56h-4.8zM134.47 222.86l2.4 -4.56h-4.8zM135.89 222.97l2.4 -4.56h-4.8zM137.31 223.06l2.4 -4.56h-4.8zM138.73 223.11l2.4 -4.56h-4.8zM140.15 223.14l2.4 -4.56h-4.8zM141.57 223.07l2.4 -4.56h-4.8zM142.99 222.88l2.4 -4.56h-4.8zM144.41 222.61l2.4 -4.56h-4.8zM145.83 222.28l2.4 -4.56h-4.8zM147.25 221.93l2.4 -4.56h-4.8zM148.67 221.6l2.4 -4.56h-4.8zM150.09 221.32l2.4 -4.56h-4.8zM151.51 221.12l2.4 -4.56h-4.8zM152.93 220.97l2.4 -4.56h-4.8zM154.35 220.82l2.4 -4.56h-4.8zM155.77 220.7l2.4 -4.56h-4.8zM157.19 220.64l2.4 -4.56h-4.8zM158.61 220.81l2.4 -4.56h-4.8zM160.03 221.62l2.4 -4.56h-4.8zM161.45 222.74l2.4 -4.56h-4.8zM162.87 223.82l2.4 -4.56h-4.8zM164.29 224.49l2.4 -4.56h-4.8zM165.71 224.92l2.4 -4.56h-4.8zM167.13 225.3l2.4 -4.56h-4.8zM168.55 225.58l2.4 -4.56h-4.8zM169.97 225.73l2.4 -4.56h-4.8zM171.39 225.72l2.4 -4.56h-4.8zM172.81 225.65l2.4 -4.56h-4.8zM174.23 225.54l2.4 -4.56h-4.8zM175.65 225.4l2.4 -4.56h-4.8zM177.07 225.25l2.4 -4.56h-4.8zM178.49 225.1l2.4 -4.56h-4.8zM179.91 224.98l2.4 -4.56h-4.8zM181.33 224.89l2.4 -4.56h-4.8zM182.75 224.81l2.4 -4.56h-4.8zM184.17 224.74l2.4 -4.56h-4.8zM185.59 224.67l2.4 -4.56h-4.8zM187.01 224.61l2.4 -4.56h-4.8zM188.43 224.54l2.4 -4.56h-4.8zM189.85 224.48l2.4 -4.56h-4.8zM191.27 224.42l2.4 -4.56h-4.8zM192.69 224.36l2.4 -4.56h-4.8zM194.11 224.32l2.4 -4.56h-4.8zM195.53 224.28l2.4 -4.56h-4.8zM196.95 224.23l2.4 -4.56h-4.8zM198.37 224.17l2.4 -4.56h-4.8zM199.79 224.09l2.4 -4.56h-4.8zM201.21 223.95l2.4 -4.56h-4.8zM202.63 223.58l2.4 -4.56h-4.8zM204.05 223.06l2.4 -4.56h-4.8zM205.47 222.5l2.4 -4.56h-4.8zM206.89 222.01l2.4 -4.56h-4.8zM208.31 221.68l2.4 -4.56h-4.8zM209.73 221.46l2.4 -4.56h-4.8zM211.15 221.28l2.4 -4.56h-4.8zM212.57 221.12l2.4 -4.56h-4.8zM213.99 220.97l2.4 -4.56h-4.8zM215.41 220.81l2.4 -4.56h-4.8zM216.83 220.63l2.4 -4.56h-4.8zM218.25 220.47l2.4 -4.56h-4.8zM219.67 220.31l2.4 -4.56h-4.8zM221.09 220.14l2.4 -4.56h-4.8zM222.51 219.95l2.4 -4.56h-4.8zM223.93 219.75l2.4 -4.56h-4.8zM225.35 219.53l2.4 -4.56h-4.8zM226.77 219.29l2.4 -4.56h-4.8zM228.19 219l2.4 -4.56h-4.8zM229.61 218.65l2.4 -4.56h-4.8zM231.03 218.04l2.4 -4.56h-4.8zM232.45 216.96l2.4 -4.56h-4.8zM233.87 215.88l2.4 -4.56h-4.8zM235.29 215.26l2.4 -4.56h-4.8zM236.71 215.41l2.4 -4.56h-4.8zM238.13 215.96l2.4 -4.56h-4.8zM239.55 216.55l2.4 -4.56h-4.8zM240.97 216.84l2.4 -4.56h-4.8zM242.39 216.57l2.4 -4.56h-4.8zM243.81 215.86l2.4 -4.56h-4.8zM245.23 214.86l2.4 -4.56h-4.8zM246.65 213.74l2.4 -4.56h-4.8zM248.07 212.56l2.4 -4.56h-4.8zM249.49 211.01l2.4 -4.56h-4.8zM250.91 209.34l2.4 -4.56h-4.8zM252.33 207.52l2.4 -4.56h-4.8zM253.75 205.73l2.4 -4.56h-4.8zM255.17 204.59l2.4 -4.56h-4.8zM256.59 203.86l2.4 -4.56h-4.8zM258.01 203.16l2.4 -4.56h-4.8zM259.43 202.43l2.4 -4.56h-4.8zM260.85 202.71l2.4 -4.56h-4.8zM262.27 203.96l2.4 -4.56h-4.8zM263.69 205.34l2.4 -4.56h-4.8zM265.11 206.75l2.4 -4.56h-4.8zM266.53 208.38l2.4 -4.56h-4.8zM267.95 210.01l2.4 -4.56h-4.8zM269.37 211.19l2.4 -4.56h-4.8zM270.79 211.52l2.4 -4.56h-4.8zM272.21 211.12l2.4 -4.56h-4.8zM273.63 210.35l2.4 -4.56h-4.8zM275.05 209.49l2.4 -4.56h-4.8zM276.47 208.8l2.4 -4.56h-4.8zM277.89 208.54l2.4 -4.56h-4.8zM279.31 208.87l2.4 -4.56h-4.8zM280.73 209.6l2.4 -4.56h-4.8zM282.15 210.46l2.4 -4.56h-4.8zM283.57 211.2l2.4 -4.56h-4.8zM284.99 211.53l2.4 -4.56h-4.8zM286.41 211.35l2.4 -4.56h-4.8zM287.83 210.84l2.4 -4.56h-4.8zM289.25 210.21l2.4 -4.56h-4.8zM290.67 209.65l2.4 -4.56h-4.8zM292.09 209.35l2.4 -4.56h-4.8zM293.51 209.76l2.4 -4.56h-4.8zM294.93 211.25l2.4 -4.56h-4.8zM296.35 213.24l2.4 -4.56h-4.8zM297.77 215.15l2.4 -4.56h-4.8zM299.19 216.39l2.4 -4.56h-4.8zM300.61 217.08l2.4 -4.56h-4.8zM302.03 217.65l2.4 -4.56h-4.8zM303.45 218.09l2.4 -4.56h-4.8zM304.87 218.46l2.4 -4.56h-4.8zM306.29 218.82l2.4 -4.56h-4.8zM307.71 219.11l2.4 -4.56h-4.8zM309.13 219.3l2.4 -4.56h-4.8zM310.55 219.33l2.4 -4.56h-4.8zM311.97 219.3l2.4 -4.56h-4.8zM313.39 219.24l2.4 -4.56h-4.8zM314.81 219.17l2.4 -4.56h-4.8zM316.23 219.1l2.4 -4.56h-4.8zM317.65 219.03l2.4 -4.56h-4.8zM319.07 218.94l2.4 -4.56h-4.8zM320.49 218.85l2.4 -4.56h-4.8zM321.91 218.75l2.4 -4.56h-4.8zM323.33 218.63l2.4 -4.56h-4.8zM324.75 218.51l2.4 -4.56h-4.8zM326.17 218.36l2.4 -4.56h-4.8zM327.59 218.21l2.4 -4.56h-4.8zM329.01 218.03l2.4 -4.56h-4.8zM330.43 217.8l2.4 -4.56h-4.8zM331.85 217.51l2.4 -4.56h-4.8zM333.27 217.18l2.4 -4.56h-4.8zM334.69 216.81l2.4 -4.56h-4.8zM336.11 216.42l2.4 -4.56h-4.8zM337.53 215.99l2.4 -4.56h-4.8zM338.95 215.55l2.4 -4.56h-4.8z"/><path fill="#00ffff" d="M17.35 65a2.1 2.1 0 1 0 4.2 0a2.1 2.1 0 1 0 -4.2 0zM18.77 79a2.1 2.1 0 1 0 4.2 0a2.1 2.1 0 1 0 -4.2 0zM20.19 94a2.1 2.1 0 1 0 4.2 0a2.1 2.1 0 1 0 -4.2 0zM21.61 107.4a2.1 2.1 0 1 0 4.2 0a2.1 2.1 0 1 0 -4.2 0zM23.03 118.2a2.1 2.1 0 1 0 4.2 0a2.1 2.1 0 1 0 -4.2 0zM24.45 128.2a2.1 2.1 0 1 0 4.2 0a2.1 2.1 0 1 0 -4.2 0zM25.87 137.3a2.1 2.1 0 1 0 4.2 0a2.1 2.1 0 1 0 -4.2 0zM27.29 143.6a2.1 2.1 0 1 0 4.2 0a2.1 2.1 0 1 0 -4.2 0zM28.71 150.5a2.1 2.1 0 1 0 4.2 0a2.1 2.1 0 1 0 -4.2 0zM30.13 158.34a2.1 2.1 0 1 0 4.2 0a2.1 2.1 0 1 0 -4.2 0zM31.55 163.49a2.1 2.1 0 1 0 4.2 0a2.1 2.1 0 1 0 -4.2 0zM32.97 167.51a2.1 2.1 0 1 0 4.2 0a2.1 2.1 0 1 0 -4.2 0zM34.39 171.77a2.1 2.1 0 1 0 4.2 0a2.1 2.1 0 1 0 -4.2 0zM35.81 176.06a2.1 2.1 0 1 0 4.2 0a2.1 2.1 0 1 0 -4.2 0zM37.23 180.41a2.1 2.1 0 1 0 4.2 0a2.1 2.1 0 1 0 -4.2 0zM38.65 184.48a2.1 2.1 0 1 0 4.2 0a2.1 2.1 0 1 0 -4.2 0zM40.07 188.22a2.1 2.1 0 1 0 4.2 0a2.1 2.1 0 1 0 -4.2 0zM41.49 191.27a2.1 2.1 0 1 0 4.2 0a2.1 2.1 0 1 0 -4.2 0zM42.91 193.95a2.1 2.1 0 1 0 4.2 0a2.1 2.1 0 1 0 -4.2 0zM44.33 196.37a2.1 2.1 0 1 0 4.2 0a2.1 2.1 0 1 0 -4.2 0zM45.75 198.62a2.1 2.1 0 1 0 4.2 0a2.1 2.1 0 1 0 -4.2 0zM47.17 200.72a2.1 2.1 0 1 0 4.2 0a2.1 2.1 0 1 0 -4.2 0zM48.59 202.66a2.1 2.1 0 1 0 4.2 0a2.1 2.1 0 1 0 -4.2 0zM50.01 204.5a2.1 2.1 0 1 0 4.2 0a2.1 2.1 0 1 0 -4.2 0zM51.43 206.27a2.1 2.1 0 1 0 4.2 0a2.1 2.1 0 1 0 -4.2 0zM52.85 208.04a2.1 2.1 0 1 0 4.2 0a2.1 2.1 0 1 0 -4.2 0zM54.27 209.87a2.1 2.1 0 1 0 4.2 0a2.1 2.1 0 1 0 -4.2 0zM55.69 211.74a2.1 2.1 0 1 0 4.2 0a2.1 2.1 0 1 0 -4.2 0zM57.11 213.56a2.1 2.1 0 1 0 4.2 0a2.1 2.1 0 1 0 -4.2 0zM58.53 215.21a2.1 2.1 0 1 0 4.2 0a2.1 2.1 0 1 0 -4.2 0zM59.95 216.59a2.1 2.1 0 1 0 4.2 0a2.1 2.1 0 1 0 -4.2 0zM61.37 217.7a2.1 2.1 0 1 0 4.2 0a2.1 2.1 0 1 0 -4.2 0zM62.79 218.67a2.1 2.1 0 1 0 4.2 0a2.1 2.1 0 1 0 -4.2 0zM64.21 219.53a2.1 2.1 0 1 0 4.2 0a2.1 2.1 0 1 0 -4.2 0zM65.63 220.31a2.1 2.1 0 1 0 4.2 0a2.1 2.1 0 1 0 -4.2 0zM67.05 221.03a2.1 2.1 0 1 0 4.2 0a2.1 2.1 0 1 0 -4.2 0zM68.47 221.7a2.1 2.1 0 1 0 4.2 0a2.1 2.1 0 1 0 -4.2 0zM69.89 222.31a2.1 2.1 0 1 0 4.2 0a2.1 2.1 0 1 0 -4.2 0zM71.31 222.88a2.1 2.1 0 1 0 4.2 0a2.1 2.1 0 1 0 -4.2 0zM72.73 223.41a2.1 2.1 0 1 0 4.2 0a2.1 2.1 0 1 0 -4.2 0zM74.15 223.91a2.1 2.1 0 1 0 4.2 0a2.1 2.1 0 1 0 -4.2 0zM75.57 224.4a2.1 2.1 0 1 0 4.2 0a2.1 2.1 0 1 0 -4.2 0zM76.99 224.9a2.1 2.1 0 1 0 4.2 0a2.1 2.1 0 1 0 -4.2 0zM78.41 225.37a2.1 2.1 0 1 0 4.2 0a2.1 2.1 0 1 0 -4.2 0zM79.83 225.8a2.1 2.1 0 1 0 4.2 0a2.1 2.1 0 1 0 -4.2 0zM81.25 226.15a2.1 2.1 0 1 0 4.2 0a2.1 2.1 0 1 0 -4.2 0zM82.67 226.41a2.1 2.1 0 1 0 4.2 0a2.1 2.1 0 1 0 -4.2 0zM84.09 226.6a2.1 2.1 0 1 0 4.2 0a2.1 2.1 0 1 0 -4.2 0zM85.51 226.75a2.1 2.1 0 1 0 4.2 0a2.1 2.1 0 1 0 -4.2 0zM86.93 226.88a2.1 2.1 0 1 0 4.2 0a2.1 2.1 0 1 0 -4.2 0zM88.35 227a2.1 2.1 0 1 0 4.2 0a2.1 2.1 0 1 0 -4.2 0zM89.77 227.14a2.1 2.1 0 1 0 4.2 0a2.1 2.1 0 1 0 -4.2 0zM91.19 227.31a2.1 2.1 0 1 0 4.2 0a2.1 2.1 0 1 0 -4.2 0zM92.61 227.54a2.1 2.1 0 1 0 4.2 0a2.1 2.1 0 1 0 -4.2 0zM94.03 228.03a2.1 2.1 0 1 0 4.2 0a2.1 2.1 0 1 0 -4.2 0zM95.45 228.5a2.1 2.1 0 1 0 4.2 0a2.1 2.1 0 1 0 -4.2 0zM96.87 228.41a2.1 2.1 0 1 0 4.2 0a2.1 2.1 0 1 0 -4.2 0zM98.29 228.18a2.1 2.1 0 1 0 4.2 0a2.1 2.1 0 1 0 -4.2 0zM99.71 227.87a2.1 2.1 0 1 0 4.2 0a2.1 2.1 0 1 0 -4.2 0zM101.13 227.55a2.1 2.1 0 1 0 4.2 0a2.1 2.1 0 1 0 -4.2 0zM102.55 227.28a2.1 2.1 0 1 0 4.2 0a2.1 2.1 0 1 0 -4.2 0zM103.97 227.12a2.1 2.1 0 1 0 4.2 0a2.1 2.1 0 1 0 -4.2 0zM105.39 226.97a2.1 2.1 0 1 0 4.2 0a2.1 2.1 0 1 0 -4.2 0zM106.81 226.83a2.1 2.1 0 1 0 4.2 0a2.1 2.1 0 1 0 -4.2 0zM108.23 226.69a2.1 2.1 0 1 0 4.2 0a2.1 2.1 0 1 0 -4.2 0zM109.65 226.58a2.1 2.1 0 1 0 4.2 0a2.1 2.1 0 1 0 -4.2 0zM111.07 226.49a2.1 2.1 0 1 0 4.2 0a2.1 2.1 0 1 0 -4.2 0zM112.49 226.43a2.1 2.1 0 1 0 4.2 0a2.1 2.1 0 1 0 -4.2 0zM113.91 226.4a2.1 2.1 0 1 0 4.2 0a2.1 2.1 0 1 0 -4.2 0zM115.33 226.43a2.1 2.1 0 1 0 4.2 0a2.1 2.1 0 1 0 -4.2 0zM116.75 226.51a2.1 2.1 0 1 0 4.2 0a2.1 2.1 0 1 0 -4.2 0zM118.17 226.65a2.1 2.1 0 1 0 4.2 0a2.1 2.1 0 1 0 -4.2 0zM119.59 226.82a2.1 2.1 0 1 0 4.2 0a2.1 2.1 0 1 0 -4.2 0zM121.01 227a2.1 2.1 0 1 0 4.2 0a2.1 2.1 0 1 0 -4.2 0zM122.43 227.18a2.1 2.1 0 1 0 4.2 0a2.1 2.1 0 1 0 -4.2 0zM123.85 227.35a2.1 2.1 0 1 0 4.2 0a2.1 2.1 0 1 0 -4.2 0zM125.27 227.49a2.1 2.1 0 1 0 4.2 0a2.1 2.1 0 1 0 -4.2 0zM126.69 227.58a2.1 2.1 0 1 0 4.2 0a2.1 2.1 0 1 0 -4.2 0zM128.11 227.63a2.1 2.1 0 1 0 4.2 0a2.1 2.1 0 1 0 -4.2 0zM129.53 227.67a2.1 2.1 0 1 0 4.2 0a2.1 2.1 0 1 0 -4.2 0zM130.95 227.7a2.1 2.1 0 1 0 4.2 0a2.1 2.1 0 1 0 -4.2 0zM132.37 227.74a2.1 2.1 0 1 0 4.2 0a2.1 2.1 0 1 0 -4.2 0zM133.79 227.76a2.1 2.1 0 1 0 4.2 0a2.1 2.1 0 1 0 -4.2 0zM135.21 227.78a2.1 2.1 0 1 0 4.2 0a2.1 2.1 0 1 0 -4.2 0zM136.63 227.8a2.1 2.1 0 1 0 4.2 0a2.1 2.1 0 1 0 -4.2 0zM138.05 227.8a2.1 2.1 0 1 0 4.2 0a2.1 2.1 0 1 0 -4.2 0zM139.47 227.77a2.1 2.1 0 1 0 4.2 0a2.1 2.1 0 1 0 -4.2 0zM140.89 227.68a2.1 2.1 0 1 0 4.2 0a2.1 2.1 0 1 0 -4.2 0zM142.31 227.55a2.1 2.1 0 1 0 4.2 0a2.1 2.1 0 1 0 -4.2 0zM143.73 227.39a2.1 2.1 0 1 0 4.2 0a2.1 2.1 0 1 0 -4.2 0zM145.15 227.22a2.1 2.1 0 1 0 4.2 0a2.1 2.1 0 1 0 -4.2 0zM146.57 227.05a2.1 2.1 0 1 0 4.2 0a2.1 2.1 0 1 0 -4.2 0zM147.99 226.89a2.1 2.1 0 1 0 4.2 0a2.1 2.1 0 1 0 -4.2 0zM149.41 226.71a2.1 2.1 0 1 0 4.2 0a2.1 2.1 0 1 0 -4.2 0zM150.83 226.49a2.1 2.1 0 1 0 4.2 0a2.1 2.1 0 1 0 -4.2 0zM152.25 226.28a2.1 2.1 0 1 0 4.2 0a2.1 2.1 0 1 0 -4.2 0zM153.67 226.1a2.1 2.1 0 1 0 4.2 0a2.1 2.1 0 1 0 -4.2 0zM155.09 226.01a2.1 2.1 0 1 0 4.2 0a2.1 2.1 0 1 0 -4.2 0zM156.51 226.05a2.1 2.1 0 1 0 4.2 0a2.1 2.1 0 1 0 -4.2 0zM157.93 226.31a2.1 2.1 0 1 0 4.2 0a2.1 2.1 0 1 0 -4.2 0zM159.35 226.74a2.1 2.1 0 1 0 4.2 0a2.1 2.1 0 1 0 -4.2 0zM160.77 227.27a2.1 2.1 0 1 0 4.2 0a2.1 2.1 0 1 0 -4.2 0zM162.19 227.84a2.1 2.1 0 1 0 4.2 0a2.1 2.1 0 1 0 -4.2 0zM163.61 228.4a2.1 2.1 0 1 0 4.2 0a2.1 2.1 0 1 0 -4.2 0zM165.03 228.89a2.1 2.1 0 1 0 4.2 0a2.1 2.1 0 1 0 -4.2 0zM166.45 229.24a2.1 2.1 0 1 0 4.2 0a2.1 2.1 0 1 0 -4.2 0zM167.87 229.46a2.1 2.1 0 1 0 4.2 0a2.1 2.1 0 1 0 -4.2 0zM169.29 229.65a2.1 2.1 0 1 0 4.2 0a2.1 2.1 0 1 0 -4.2 0zM170.71 229.82a2.1 2.1 0 1 0 4.2 0a2.1 2.1 0 1 0 -4.2 0zM172.13 229.94a2.1 2.1 0 1 0 4.2 0a2.1 2.1 0 1 0 -4.2 0zM173.55 230a2.1 2.1 0 1 0 4.2 0a2.1 2.1 0 1 0 -4.2 0zM174.97 230.04a2.1 2.1 0 1 0 4.2 0a2.1 2.1 0 1 0 -4.2 0zM176.39 230.07a2.1 2.1 0 1 0 4.2 0a2.1 2.1 0 1 0 -4.2 0zM177.81 230.1a2.1 2.1 0 1 0 4.2 0a2.1 2.1 0 1 0 -4.2 0zM179.23 230.12a2.1 2.1 0 1 0 4.2 0a2.1 2.1 0 1 0 -4.2 0zM180.65 230.14a2.1 2.1 0 1 0 4.2 0a2.1 2.1 0 1 0 -4.2 0zM182.07 230.16a2.1 2.1 0 1 0 4.2 0a2.1 2.1 0 1 0 -4.2 0zM183.49 230.18a2.1 2.1 0 1 0 4.2 0a2.1 2.1 0 1 0 -4.2 0zM184.91 230.19a2.1 2.1 0 1 0 4.2 0a2.1 2.1 0 1 0 -4.2 0zM186.33 230.2a2.1 2.1 0 1 0 4.2 0a2.1 2.1 0 1 0 -4.2 0zM187.75 230.2a2.1 2.1 0 1 0 4.2 0a2.1 2.1 0 1 0 -4.2 0zM189.17 230.2a2.1 2.1 0 1 0 4.2 0a2.1 2.1 0 1 0 -4.2 0zM190.59 230.18a2.1 2.1 0 1 0 4.2 0a2.1 2.1 0 1 0 -4.2 0zM192.01 230.13a2.1 2.1 0 1 0 4.2 0a2.1 2.1 0 1 0 -4.2 0zM193.43 230.07a2.1 2.1 0 1 0 4.2 0a2.1 2.1 0 1 0 -4.2 0zM194.85 229.99a2.1 2.1 0 1 0 4.2 0a2.1 2.1 0 1 0 -4.2 0zM196.27 229.91a2.1 2.1 0 1 0 4.2 0a2.1 2.1 0 1 0 -4.2 0zM197.69 229.81a2.1 2.1 0 1 0 4.2 0a2.1 2.1 0 1 0 -4.2 0zM199.11 229.69a2.1 2.1 0 1 0 4.2 0a2.1 2.1 0 1 0 -4.2 0zM200.53 229.5a2.1 2.1 0 1 0 4.2 0a2.1 2.1 0 1 0 -4.2 0zM201.95 229.26a2.1 2.1 0 1 0 4.2 0a2.1 2.1 0 1 0 -4.2 0zM203.37 228.99a2.1 2.1 0 1 0 4.2 0a2.1 2.1 0 1 0 -4.2 0zM204.79 228.71a2.1 2.1 0 1 0 4.2 0a2.1 2.1 0 1 0 -4.2 0zM206.21 228.45a2.1 2.1 0 1 0 4.2 0a2.1 2.1 0 1 0 -4.2 0zM207.63 228.23a2.1 2.1 0 1 0 4.2 0a2.1 2.1 0 1 0 -4.2 0zM209.05 228.06a2.1 2.1 0 1 0 4.2 0a2.1 2.1 0 1 0 -4.2 0zM210.47 227.97a2.1 2.1 0 1 0 4.2 0a2.1 2.1 0 1 0 -4.2 0zM211.89 227.91a2.1 2.1 0 1 0 4.2 0a2.1 2.1 0 1 0 -4.2 0zM213.31 227.87a2.1 2.1 0 1 0 4.2 0a2.1 2.1 0 1 0 -4.2 0zM214.73 227.84a2.1 2.1 0 1 0 4.2 0a2.1 2.1 0 1 0 -4.2 0zM216.15 227.81a2.1 2.1 0 1 0 4.2 0a2.1 2.1 0 1 0 -4.2 0zM217.57 227.77a2.1 2.1 0 1 0 4.2 0a2.1 2.1 0 1 0 -4.2 0zM218.99 227.73a2.1 2.1 0 1 0 4.2 0a2.1 2.1 0 1 0 -4.2 0zM220.41 227.68a2.1 2.1 0 1 0 4.2 0a2.1 2.1 0 1 0 -4.2 0zM221.83 227.6a2.1 2.1 0 1 0 4.2 0a2.1 2.1 0 1 0 -4.2 0zM223.25 227.46a2.1 2.1 0 1 0 4.2 0a2.1 2.1 0 1 0 -4.2 0zM224.67 227.2a2.1 2.1 0 1 0 4.2 0a2.1 2.1 0 1 0 -4.2 0zM226.09 226.88a2.1 2.1 0 1 0 4.2 0a2.1 2.1 0 1 0 -4.2 0zM227.51 226.5a2.1 2.1 0 1 0 4.2 0a2.1 2.1 0 1 0 -4.2 0zM228.93 226.01a2.1 2.1 0 1 0 4.2 0a2.1 2.1 0 1 0 -4.2 0zM230.35 225.26a2.1 2.1 0 1 0 4.2 0a2.1 2.1 0 1 0 -4.2 0zM231.77 224.61a2.1 2.1 0 1 0 4.2 0a2.1 2.1 0 1 0 -4.2 0zM233.19 224.42a2.1 2.1 0 1 0 4.2 0a2.1 2.1 0 1 0 -4.2 0zM234.61 224.83a2.1 2.1 0 1 0 4.2 0a2.1 2.1 0 1 0 -4.2 0zM236.03 225.5a2.1 2.1 0 1 0 4.2 0a2.1 2.1 0 1 0 -4.2 0zM237.45 225.96a2.1 2.1 0 1 0 4.2 0a2.1 2.1 0 1 0 -4.2 0zM238.87 225.95a2.1 2.1 0 1 0 4.2 0a2.1 2.1 0 1 0 -4.2 0zM240.29 225.71a2.1 2.1 0 1 0 4.2 0a2.1 2.1 0 1 0 -4.2 0zM241.71 225.35a2.1 2.1 0 1 0 4.2 0a2.1 2.1 0 1 0 -4.2 0zM243.13 224.92a2.1 2.1 0 1 0 4.2 0a2.1 2.1 0 1 0 -4.2 0zM244.55 224.24a2.1 2.1 0 1 0 4.2 0a2.1 2.1 0 1 0 -4.2 0zM245.97 223.31a2.1 2.1 0 1 0 4.2 0a2.1 2.1 0 1 0 -4.2 0zM247.39 222.27a2.1 2.1 0 1 0 4.2 0a2.1 2.1 0 1 0 -4.2 0zM248.81 221.19a2.1 2.1 0 1 0 4.2 0a2.1 2.1 0 1 0 -4.2 0zM250.23 219.95a2.1 2.1 0 1 0 4.2 0a2.1 2.1 0 1 0 -4.2 0zM251.65 218.76a2.1 2.1 0 1 0 4.2 0a2.1 2.1 0 1 0 -4.2 0zM253.07 217.78a2.1 2.1 0 1 0 4.2 0a2.1 2.1 0 1 0 -4.2 0zM254.49 216.77a2.1 2.1 0 1 0 4.2 0a2.1 2.1 0 1 0 -4.2 0zM255.91 215.96a2.1 2.1 0 1 0 4.2 0a2.1 2.1 0 1 0 -4.2 0zM257.33 215.6a2.1 2.1 0 1 0 4.2 0a2.1 2.1 0 1 0 -4.2 0zM258.75 216.03a2.1 2.1 0 1 0 4.2 0a2.1 2.1 0 1 0 -4.2 0zM260.17 217.1a2.1 2.1 0 1 0 4.2 0a2.1 2.1 0 1 0 -4.2 0zM261.59 218.34a2.1 2.1 0 1 0 4.2 0a2.1 2.1 0 1 0 -4.2 0zM263.01 219.33a2.1 2.1 0 1 0 4.2 0a2.1 2.1 0 1 0 -4.2 0zM264.43 220.35a2.1 2.1 0 1 0 4.2 0a2.1 2.1 0 1 0 -4.2 0zM265.85 221.4a2.1 2.1 0 1 0 4.2 0a2.1 2.1 0 1 0 -4.2 0zM267.27 222.32a2.1 2.1 0 1 0 4.2 0a2.1 2.1 0 1 0 -4.2 0zM268.69 222.93a2.1 2.1 0 1 0 4.2 0a2.1 2.1 0 1 0 -4.2 0zM270.11 223.08a2.1 2.1 0 1 0 4.2 0a2.1 2.1 0 1 0 -4.2 0zM271.53 222.62a2.1 2.1 0 1 0 4.2 0a2.1 2.1 0 1 0 -4.2 0zM272.95 221.75a2.1 2.1 0 1 0 4.2 0a2.1 2.1 0 1 0 -4.2 0zM274.37 220.77a2.1 2.1 0 1 0 4.2 0a2.1 2.1 0 1 0 -4.2 0zM275.79 219.99a2.1 2.1 0 1 0 4.2 0a2.1 2.1 0 1 0 -4.2 0zM277.21 219.7a2.1 2.1 0 1 0 4.2 0a2.1 2.1 0 1 0 -4.2 0zM278.63 219.95a2.1 2.1 0 1 0 4.2 0a2.1 2.1 0 1 0 -4.2 0zM280.05 220.49a2.1 2.1 0 1 0 4.2 0a2.1 2.1 0 1 0 -4.2 0zM281.47 221.12a2.1 2.1 0 1 0 4.2 0a2.1 2.1 0 1 0 -4.2 0zM282.89 221.66a2.1 2.1 0 1 0 4.2 0a2.1 2.1 0 1 0 -4.2 0zM284.31 221.9a2.1 2.1 0 1 0 4.2 0a2.1 2.1 0 1 0 -4.2 0zM285.73 221.67a2.1 2.1 0 1 0 4.2 0a2.1 2.1 0 1 0 -4.2 0zM287.15 221.06a2.1 2.1 0 1 0 4.2 0a2.1 2.1 0 1 0 -4.2 0zM288.57 220.29a2.1 2.1 0 1 0 4.2 0a2.1 2.1 0 1 0 -4.2 0zM289.99 219.61a2.1 2.1 0 1 0 4.2 0a2.1 2.1 0 1 0 -4.2 0zM291.41 219.22a2.1 2.1 0 1 0 4.2 0a2.1 2.1 0 1 0 -4.2 0zM292.83 219.35a2.1 2.1 0 1 0 4.2 0a2.1 2.1 0 1 0 -4.2 0zM294.25 219.93a2.1 2.1 0 1 0 4.2 0a2.1 2.1 0 1 0 -4.2 0zM295.67 220.75a2.1 2.1 0 1 0 4.2 0a2.1 2.1 0 1 0 -4.2 0zM297.09 221.59a2.1 2.1 0 1 0 4.2 0a2.1 2.1 0 1 0 -4.2 0zM298.51 222.28a2.1 2.1 0 1 0 4.2 0a2.1 2.1 0 1 0 -4.2 0zM299.93 222.96a2.1 2.1 0 1 0 4.2 0a2.1 2.1 0 1 0 -4.2 0zM301.35 223.47a2.1 2.1 0 1 0 4.2 0a2.1 2.1 0 1 0 -4.2 0zM302.77 223.89a2.1 2.1 0 1 0 4.2 0a2.1 2.1 0 1 0 -4.2 0zM304.19 224.3a2.1 2.1 0 1 0 4.2 0a2.1 2.1 0 1 0 -4.2 0zM305.61 224.68a2.1 2.1 0 1 0 4.2 0a2.1 2.1 0 1 0 -4.2 0zM307.03 225.01a2.1 2.1 0 1 0 4.2 0a2.1 2.1 0 1 0 -4.2 0zM308.45 225.28a2.1 2.1 0 1 0 4.2 0a2.1 2.1 0 1 0 -4.2 0zM309.87 225.48a2.1 2.1 0 1 0 4.2 0a2.1 2.1 0 1 0 -4.2 0zM311.29 225.59a2.1 2.1 0 1 0 4.2 0a2.1 2.1 0 1 0 -4.2 0zM312.71 225.6a2.1 2.1 0 1 0 4.2 0a2.1 2.1 0 1 0 -4.2 0zM314.13 225.6a2.1 2.1 0 1 0 4.2 0a2.1 2.1 0 1 0 -4.2 0zM315.55 225.6a2.1 2.1 0 1 0 4.2 0a2.1 2.1 0 1 0 -4.2 0zM316.97 225.6a2.1 2.1 0 1 0 4.2 0a2.1 2.1 0 1 0 -4.2 0zM318.39 225.6a2.1 2.1 0 1 0 4.2 0a2.1 2.1 0 1 0 -4.2 0zM319.81 225.6a2.1 2.1 0 1 0 4.2 0a2.1 2.1 0 1 0 -4.2 0zM321.23 225.6a2.1 2.1 0 1 0 4.2 0a2.1 2.1 0 1 0 -4.2 0zM322.65 225.6a2.1 2.1 0 1 0 4.2 0a2.1 2.1 0 1 0 -4.2 0zM324.07 225.6a2.1 2.1 0 1 0 4.2 0a2.1 2.1 0 1 0 -4.2 0zM325.49 225.6a2.1 2.1 0 1 0 4.2 0a2.1 2.1 0 1 0 -4.2 0zM326.91 225.54a2.1 2.1 0 1 0 4.2 0a2.1 2.1 0 1 0 -4.2 0zM328.33 225.34a2.1 2.1 0 1 0 4.2 0a2.1 2.1 0 1 0 -4.2 0zM329.75 225.02a2.1 2.1 0 1 0 4.2 0a2.1 2.1 0 1 0 -4.2 0zM331.17 224.59a2.1 2.1 0 1 0 4.2 0a2.1 2.1 0 1 0 -4.2 0zM332.59 224.09a2.1 2.1 0 1 0 4.2 0a2.1 2.1 0 1 0 -4.2 0zM334.01 223.53a2.1 2.1 0 1 0 4.2 0a2.1 2.1 0 1 0 -4.2 0zM335.43 222.93a2.1 2.1 0 1 0 4.2 0a2.1 2.1 0 1 0 -4.2 0zM336.85 222.32a2.1 2.1 0 1 0 4.2 0a2.1 2.1 0 1 0 -4.2 0z"/></g>
<rect x="19" y="2.5" width="320.2" height="232.2" fill="none" stroke="#333" stroke-width="1.7"/>
<path d="M19 234.7v5.4M54.5 234.7v5.4M90 234.7v5.4M125.5 234.7v5.4M161 234.7v5.4M196.5 234.7v5.4M232 234.7v5.4M267.5 234.7v5.4M303 234.7v5.4" stroke="#222" stroke-width="1.3"/>
<path fill="#000" d="M82.3 101.5h3v3h-3z"/><path fill="#ff0000" d="M82.2 119a1.6 1.6 0 1 0 3.2 0a1.6 1.6 0 1 0 -3.2 0z"/><path fill="#00f000" d="M83.8 132.95l1.8 3.42h-3.6z"/><path fill="#0000ff" d="M83.8 153.05l1.8 -3.42h-3.6z"/><path fill="#00ffff" d="M82.1 167a1.7 1.7 0 1 0 3.4 0a1.7 1.7 0 1 0 -3.4 0z"/>
<g font-family='"Liberation Serif", serif' fill="#000">
<text transform="translate(19,253.6) scale(1,1.13)" font-size="13.4" font-weight="bold" text-anchor="middle" textLength="19" lengthAdjust="spacingAndGlyphs">300</text><text transform="translate(90,253.6) scale(1,1.13)" font-size="13.4" font-weight="bold" text-anchor="middle" textLength="19" lengthAdjust="spacingAndGlyphs">350</text><text transform="translate(161,253.6) scale(1,1.13)" font-size="13.4" font-weight="bold" text-anchor="middle" textLength="19" lengthAdjust="spacingAndGlyphs">400</text><text transform="translate(232,253.6) scale(1,1.13)" font-size="13.4" font-weight="bold" text-anchor="middle" textLength="19" lengthAdjust="spacingAndGlyphs">450</text><text transform="translate(303,253.6) scale(1,1.13)" font-size="13.4" font-weight="bold" text-anchor="middle" textLength="19" lengthAdjust="spacingAndGlyphs">500</text><text transform="translate(131,269.5)" font-size="15" font-weight="bold" textLength="107" lengthAdjust="spacingAndGlyphs">Wavelength (nm)</text><text transform="translate(12,192.6) rotate(-90)" font-size="15.3" font-weight="bold" textLength="138.5" lengthAdjust="spacingAndGlyphs">Intensity (arb. units.)</text><text transform="translate(28.8,22.7) scale(1,1.1)" font-size="13" stroke="#000" stroke-width="0.12" textLength="6.4" lengthAdjust="spacingAndGlyphs">λ</text><text transform="translate(35.1,28.4)" font-size="8" textLength="10.2" lengthAdjust="spacingAndGlyphs">exc</text><text transform="translate(45.4,22.6) scale(1,1.14)" font-size="13.4" stroke="#000" stroke-width="0.12" textLength="44.8" lengthAdjust="spacingAndGlyphs">=280 nm</text><text transform="translate(100.6,108.4) scale(1,1.12)" font-size="13" stroke="#000" stroke-width="0.1" textLength="35" lengthAdjust="spacingAndGlyphs">x=0.00</text><text transform="translate(100.6,124.4) scale(1,1.12)" font-size="13" stroke="#000" stroke-width="0.1" textLength="35" lengthAdjust="spacingAndGlyphs">x=0.05</text><text transform="translate(100.6,140.4) scale(1,1.12)" font-size="13" stroke="#000" stroke-width="0.1" textLength="35" lengthAdjust="spacingAndGlyphs">x=0.10</text><text transform="translate(100.6,156.4) scale(1,1.12)" font-size="13" stroke="#000" stroke-width="0.1" textLength="35" lengthAdjust="spacingAndGlyphs">x=0.15</text><text transform="translate(100.6,172.4) scale(1,1.12)" font-size="13" stroke="#000" stroke-width="0.1" textLength="35" lengthAdjust="spacingAndGlyphs">x=0.20</text>
<text transform="translate(233.2,105.5) rotate(-90)" font-size="11.5" stroke="#000" stroke-width="0.4"><tspan font-size="8.6" dy="-4.5">6</tspan><tspan dy="4.5">H</tspan><tspan font-size="8.6" dy="3">15/2</tspan></text><text transform="translate(257.6,91.5) rotate(-90)" font-size="11.5" stroke="#000" stroke-width="0.4"><tspan font-size="8.6" dy="-4.5">6</tspan><tspan dy="4.5">H</tspan><tspan font-size="8.6" dy="3">15/2</tspan></text><text transform="translate(277.5,109.4) rotate(-90)" font-size="11.5" stroke="#000" stroke-width="0.4"><tspan font-size="8.6" dy="-4.5">6</tspan><tspan dy="4.5">H</tspan><tspan font-size="8.6" dy="3">15/2</tspan></text><text transform="translate(293.8,119.6) rotate(-90)" font-size="11.5" stroke="#000" stroke-width="0.4"><tspan font-size="8.6" dy="-4.5">6</tspan><tspan dy="4.5">H</tspan><tspan font-size="8.6" dy="3">15/2</tspan></text><text transform="translate(260.8,127.8) rotate(-90)" font-size="12" stroke="#000" stroke-width="0.4">F<tspan font-size="8.6" dy="3">3</tspan></text><text transform="translate(279.5,145) rotate(-90)" font-size="12" stroke="#000" stroke-width="0.4">F<tspan font-size="8.6" dy="3">2</tspan></text><text transform="translate(294.6,149.8) rotate(-90)" font-size="12" stroke="#000" stroke-width="0.4">F<tspan font-size="8.6" dy="3">1</tspan></text><text transform="translate(234.3,166) rotate(-90)" font-size="12" stroke="#000" stroke-width="0.4"><tspan font-size="8.6" dy="-6.5">4</tspan><tspan dy="6.5">I</tspan><tspan font-size="8.6" dy="3">15/2</tspan></text><text transform="translate(263.6,184.2)" font-size="12" stroke="#000" stroke-width="0.4"><tspan font-size="9.4" dy="-6.2">4</tspan><tspan dy="6.2">F</tspan><tspan font-size="9.4" dy="3.6">9/2</tspan></text>
</g>
<path stroke="#9a9a9a" stroke-width="1.4" d="M234 117.3V127.8M257 100.9V110.8M274.8 117.9V127.9M291 125.3V135.3"/><path fill="#111" d="M234 111.7L235.8 117.8L232.2 117.8zM257 95.2L258.8 101.4L255.2 101.4zM274.8 112.3L276.6 118.4L273 118.4zM291 119.9L292.8 125.8L289.2 125.8z"/>
</svg></body></html>
